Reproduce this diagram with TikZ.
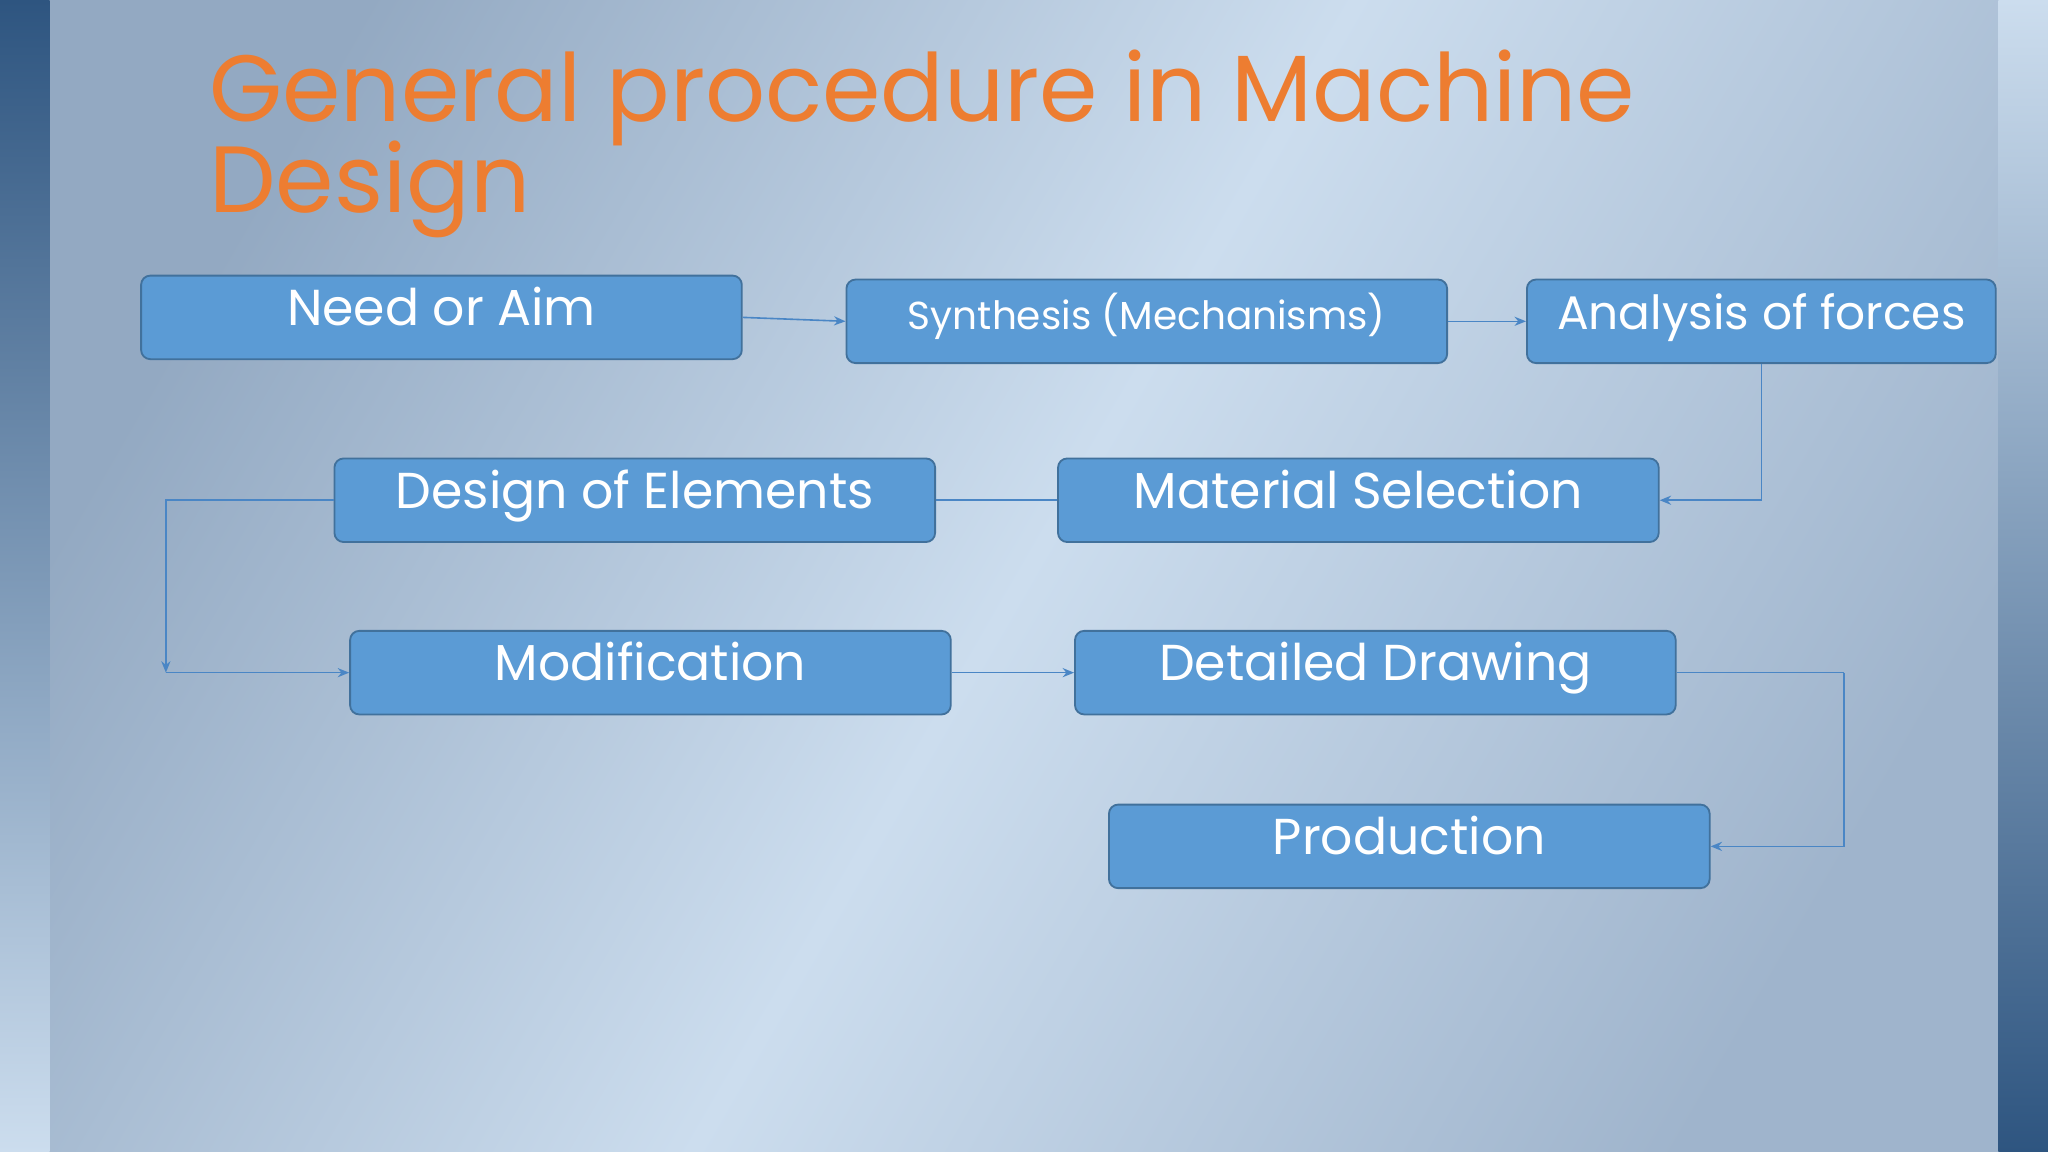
\documentclass[tikz,border=0pt]{standalone}
\usepackage{fontspec}
\setmainfont{Poppins}
\usetikzlibrary{arrows.meta}
\definecolor{boxfill}{HTML}{5B9BD5}
\definecolor{boxline}{HTML}{41719C}
\definecolor{conn}{HTML}{4A86C5}
\definecolor{titleor}{HTML}{ED7D31}
\definecolor{bgA}{HTML}{93A9C2}
\definecolor{bgB}{HTML}{CCDDEE}
\definecolor{bgC}{HTML}{9FB4CC}
\definecolor{barc}{HTML}{2E5580}
\tikzset{
  box/.style={draw=boxline, line width=0.8pt, fill=boxfill, rounded corners=4pt, minimum width=9.2cm, minimum height=1.28cm, text=white, font=\fontsize{22}{26}\selectfont, inner sep=0pt, text height=1.75ex, text depth=0.45ex},
  conn/.style={draw=conn, line width=0.7pt},
  arr/.style={conn, -{Stealth[length=5pt,width=4pt]}}
}
\begin{document}
\begin{tikzpicture}[x=0.02cm,y=-0.02cm]
\useasboundingbox (0,0) rectangle (1568,882);
\shade[left color=bgA, right color=bgC, middle color=bgB, shading angle=60] (0,0) rectangle (1568,882);
\shade[top color=barc, bottom color=bgB] (0,0) rectangle (38,882);
\shade[top color=bgB, bottom color=barc] (1530,0) rectangle (1568,882);
\node[anchor=base west, text=titleor, font=\fontsize{41}{42}\selectfont, inner sep=0pt] (t1) at (160,93) {General procedure in Machine};
\node[anchor=base west, text=titleor, font=\fontsize{41}{42}\selectfont, inner sep=0pt] (t2) at (160,163) {Design};
\node[box] (need) at (338,243) {Need or Aim};
\node[box, font=\fontsize{17}{20}\selectfont] (syn) at (878,246) {Synthesis (Mechanisms)};
\node[box, minimum width=7.18cm, font=\fontsize{20.5}{24}\selectfont] (ana) at (1348.5,246) {Analysis of forces};
\node[box] (des) at (486,383) {Design of Elements};
\node[box] (mat) at (1040,383) {Material Selection};
\node[box] (mod) at (498,515) {Modification};
\node[box] (det) at (1053,515) {Detailed Drawing};
\node[box] (pro) at (1079,648) {Production};
\coordinate (c1) at (127,515);
\coordinate (c2) at (1412,515);
\draw[arr] (need.east) -- (syn.west);
\draw[arr] (syn.east) -- (ana.west);
\draw[arr] (ana.south) |- (mat.east);
\draw[conn] (mat.west) -- (des.east);
\draw[arr] (des.west) -| (c1);
\draw[arr] (c1) -- (mod.west);
\draw[arr] (mod.east) -- (det.west);
\draw[conn] (det.east) -- (c2);
\draw[arr] (c2) |- (pro.east);
\end{tikzpicture}
\end{document}
